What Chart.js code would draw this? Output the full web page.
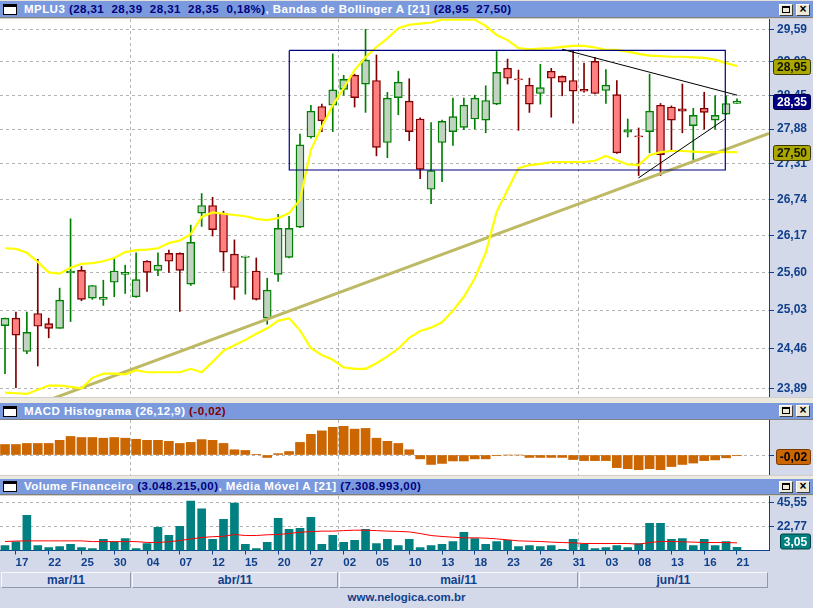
<!DOCTYPE html>
<html>
<head>
<meta charset="utf-8">
<title>MPLU3</title>
<script src="https://cdn.jsdelivr.net/npm/chart.js@4.4.1/dist/chart.umd.min.js"></script>
<style>
  body { margin:0; width:813px; height:608px; position:relative; overflow:hidden; background:#d4d9e9; font-family:"Liberation Sans", Arial, sans-serif; font-weight:bold; }
  .strip { position:absolute; left:0; width:813px; }
  .titlebar { position:absolute; left:0; width:813px; background:#7b9ade; color:#fff; font-size:11.5px; white-space:pre; }
  .titlebar .txt { position:absolute; left:24px; top:0; letter-spacing:0.45px; }
  .num { color:#000080; }
  .neg { color:#800000; }
  .icon { position:absolute; left:3px; width:14px; height:11px; box-sizing:border-box; background:#fff; border:1px solid #000; border-top-width:3px; }
  .btn { position:absolute; width:14px; height:12px; box-sizing:border-box; background:#ece9d8; border:1px solid; border-color:#fff #404040 #404040 #fff; color:#000; font-size:12px; line-height:9px; text-align:center; }
  .btn .win { position:absolute; left:2px; top:1px; width:8px; height:7px; box-sizing:border-box; border:1px solid #000; border-top-width:2px; }
  canvas { position:absolute; left:0; }
  .month { position:absolute; top:572px; height:16px; box-sizing:border-box; background:#d9ddec; border:1px solid; border-color:#f6f7fb #9298ac #9298ac #f6f7fb; color:#10408c; font-size:12px; line-height:14px; text-align:center; }
  .footer { position:absolute; left:0; width:813px; top:591px; text-align:center; color:#10408c; font-size:11.5px; }
</style>
</head>
<body>

<div class="strip" style="top:0;height:1px;background:#e4e2da"></div>
<div class="titlebar" style="top:1px;height:16px;line-height:16px">
  <div class="icon" style="top:3px"></div>
  <span class="txt">MPLU3 <span class="num">(28,31  28,39  28,31  28,35  0,18%)</span>, Bandas de Bollinger A [21] <span class="num">(28,95  27,50)</span></span>
  <div class="btn" style="left:779px;top:3px"><div class="win"></div></div>
  <div class="btn" style="left:796px;top:3px">×</div>
</div>
<div class="strip" style="top:17px;height:1px;background:#808080"></div>
<div class="strip" style="top:18px;height:1px;background:#d4d0c8"></div>

<canvas id="price" width="813" height="378" style="top:19px"></canvas>

<div class="strip" style="top:397px;height:1px;background:#cfcfcf"></div>
<div class="strip" style="top:398px;height:5px;background:#eceadf"></div>
<div class="titlebar" style="top:403px;height:16px;line-height:16px">
  <div class="icon" style="top:3px"></div>
  <span class="txt">MACD Histograma (26,12,9) <span class="neg">(-0,02)</span></span>
  <div class="btn" style="left:779px;top:2px"><div class="win"></div></div>
  <div class="btn" style="left:796px;top:2px">×</div>
</div>
<div class="strip" style="top:419px;height:1px;background:#808080"></div>

<canvas id="macd" width="813" height="55" style="top:420px"></canvas>

<div class="strip" style="top:475px;height:1px;background:#cfcfcf"></div>
<div class="strip" style="top:476px;height:3px;background:#eceadf"></div>
<div class="titlebar" style="top:479px;height:15px;line-height:15px">
  <div class="icon" style="top:2px"></div>
  <span class="txt">Volume Financeiro <span class="num">(3.048.215,00)</span>, Média Móvel A [21] <span class="num">(7.308.993,00)</span></span>
  <div class="btn" style="left:779px;top:2px"><div class="win"></div></div>
  <div class="btn" style="left:796px;top:2px">×</div>
</div>
<div class="strip" style="top:494px;height:1px;background:#808080"></div>
<div class="strip" style="top:495px;height:1px;background:#d4d0c8"></div>

<canvas id="volume" width="813" height="76" style="top:496px"></canvas>

<div class="month" style="left:1px;width:130px">mar/11</div>
<div class="month" style="left:132px;width:206px">abr/11</div>
<div class="month" style="left:339px;width:239px">mai/11</div>
<div class="month" style="left:579px;width:189px">jun/11</div>
<div class="footer">www.nelogica.com.br</div>

<script>
// Dados (pregões de 16/mar a 21/jun/2011)
const days = ['16','17','18','21','22','23','24','25','28','29','30','31',
  '01','04','05','06','07','08','11','12','13','14','15','18','19','20','25','26','27','28','29',
  '02','03','04','05','06','09','10','11','12','13','16','17','18','19','20','23','24','25','26','27','30','31',
  '01','02','03','06','07','08','09','10','13','14','15','16','17','20','21'];

const opens = [24.80,24.91,24.42,24.98,24.83,24.76,25.59,25.63,25.21,25.19,
  25.45,25.57,25.23,25.77,25.63,25.89,25.89,25.42,26.52,26.64,
  26.52,25.88,25.83,25.62,24.91,25.57,25.83,26.30,27.75,28.26,
  28.28,28.55,28.79,28.64,28.70,27.66,28.41,28.35,28.05,26.90,
  27.66,27.84,27.91,28.05,28.03,28.30,28.91,28.73,28.62,28.48,
  28.86,28.77,28.70,28.55,29.03,28.53,28.46,27.83,27.77,27.84,
  28.28,28.25,28.22,27.94,28.23,28.03,28.13,28.31];
const highs = [24.91,25.00,25.00,25.80,24.91,25.36,26.43,25.69,25.40,25.48,
  25.82,25.71,25.90,25.78,25.90,25.94,25.90,26.33,26.83,26.77,
  26.55,26.10,25.85,25.82,25.51,26.50,26.47,27.80,28.28,28.30,
  29.16,28.79,28.81,29.59,29.14,28.50,28.86,28.73,28.07,27.99,
  28.03,28.40,28.40,28.45,28.61,29.20,29.07,28.88,28.74,28.98,
  28.91,28.78,29.21,29.00,29.10,28.89,28.70,28.05,27.90,28.81,
  28.31,28.27,28.64,28.23,28.50,28.44,28.44,28.39];
const lows = [24.10,23.90,24.39,24.21,24.62,24.76,24.86,25.17,25.19,25.10,
  25.23,25.28,25.22,25.31,25.55,25.60,25.01,25.40,26.31,26.16,
  25.62,25.19,25.27,25.18,24.82,25.46,25.82,26.29,27.73,27.84,
  27.84,28.45,28.25,28.16,27.44,27.41,28.12,27.69,27.07,26.67,
  27.02,27.61,27.87,27.88,27.82,28.29,28.64,27.86,28.16,28.30,
  28.08,28.44,27.98,28.50,28.47,28.31,27.48,27.75,27.12,27.49,
  27.12,27.53,27.82,27.36,27.88,27.88,28.12,28.31];
const closes = [24.91,24.66,24.70,24.79,24.76,25.18,25.62,25.19,25.40,25.22,
  25.62,25.60,25.49,25.60,25.71,25.77,25.63,26.06,26.64,26.26,
  25.91,25.37,25.85,25.19,25.33,26.28,26.28,27.62,28.18,28.02,
  28.54,28.72,28.41,29.05,27.58,28.40,28.67,27.84,27.22,27.20,
  28.01,28.09,28.28,28.40,28.36,28.84,28.74,28.71,28.30,28.58,
  28.74,28.67,28.52,28.52,28.48,28.62,27.49,27.87,27.75,28.18,
  27.46,28.03,28.18,28.11,28.16,28.11,28.31,28.35];

// Bandas de Bollinger [21]
const bandUpper = [25.97,25.96,25.90,25.76,25.60,25.58,25.67,25.73,25.74,25.77,
  25.82,25.91,25.94,25.95,25.97,26.05,26.09,26.19,26.46,26.53,
  26.51,26.49,26.47,26.43,26.41,26.44,26.52,26.73,27.54,27.92,
  28.28,28.57,28.88,29.10,29.28,29.43,29.61,29.67,29.69,29.71,
  29.76,29.76,29.76,29.76,29.65,29.49,29.40,29.26,29.24,29.25,
  29.26,29.28,29.30,29.30,29.27,29.23,29.23,29.20,29.16,29.13,
  29.12,29.11,29.11,29.10,29.09,29.06,29.00,28.95];
const bandLower = [23.83,23.82,23.81,23.87,23.93,23.93,23.91,23.89,24.04,24.10,
  24.10,24.09,24.15,24.12,24.12,24.12,24.12,24.17,24.12,24.27,
  24.43,24.51,24.59,24.68,24.76,24.87,24.91,24.73,24.47,24.37,
  24.30,24.19,24.17,24.17,24.25,24.35,24.46,24.62,24.72,24.77,
  24.85,25.02,25.23,25.51,25.90,26.54,26.89,27.24,27.29,27.31,
  27.34,27.34,27.34,27.34,27.36,27.44,27.37,27.30,27.29,27.45,
  27.50,27.52,27.52,27.51,27.50,27.50,27.50,27.50];

// MACD Histograma (26,12,9)
const macdHist = [0.30,0.30,0.33,0.33,0.33,0.42,0.53,0.50,0.50,0.48,
  0.50,0.48,0.45,0.42,0.42,0.39,0.33,0.36,0.44,0.42,
  0.33,0.15,0.13,0.02,-0.07,0.04,0.10,0.36,0.59,0.69,
  0.79,0.82,0.74,0.76,0.48,0.39,0.33,0.15,-0.11,-0.27,
  -0.24,-0.17,-0.17,-0.11,-0.11,-0.02,0,0,-0.07,-0.07,
  -0.07,-0.07,-0.13,-0.16,-0.16,-0.16,-0.36,-0.39,-0.42,-0.39,
  -0.42,-0.33,-0.27,-0.23,-0.16,-0.14,-0.08,-0.02];

// Volume financeiro (milhões) e média móvel [21]
const volume = [4.8,8.3,33.6,4.8,2.9,3.8,5.8,2.9,1.9,10.6,
  8.3,11.5,1.9,6.7,22.1,14.4,23.1,47.1,39.7,10.6,
  29.8,45.2,5.8,1.9,7.7,30.8,20.2,21.1,31.7,5.8,
  14.4,7.7,9.6,20.2,6.7,10.6,4.8,10.6,2.9,4.8,
  5.8,8.6,17.3,11.5,5.8,8.6,9.6,3.8,4.8,3.8,
  4.8,1.0,10.6,5.8,1.9,2.9,4.8,2.9,6.7,25.9,
  25.9,10.6,11.5,4.8,10.6,4.8,8.6,3.05];
const volumeMA = [8.6,9.0,9.2,9.2,9.2,9.2,9.2,9.2,8.5,8.5,
  8.5,8.5,8.5,7.7,7.7,8.3,9.5,11.0,12.4,13.2,
  13.6,15.3,14.3,14.3,15.0,15.3,16.2,17.5,18.0,18.5,
  18.5,19.0,19.4,19.4,19.0,18.5,18.2,17.8,16.2,14.3,
  13.4,12.7,12.1,12.1,11.8,11.1,10.2,9.2,8.9,8.6,
  8.0,7.6,7.3,6.7,6.7,6.7,6.7,6.7,6.0,7.6,
  8.6,8.6,8.3,8.0,7.6,7.6,7.6,7.31];

// Escalas
const priceTicks = [23.89,24.46,25.03,25.60,26.17,26.74,27.31,27.88,28.45,29.02,29.59];
const volumeTicks = [22.77,45.55];
const macdTicks = [0];
const monthBounds = [11.5,30.5,52.5];

// Desenhos (índice do pregão, preço)
const boxIdx = [26.02,65.93];
const boxPrice = [27.21,29.22];
const ltbLine = [{x:51.0,y:29.24},{x:67.03,y:28.45}];
const ltaShort = [{x:57.97,y:27.08},{x:65.93,y:28.05}];
const ltaLong = [{x:-0.458,y:23.47},{x:69.93,y:27.81}];

const X_MIN = -0.458, X_MAX = 69.93;
const GRID = '#b4b4b4';
const AXIS_TXT = '#10408c';
const AXIS_FONT = {family:'Liberation Sans', weight:'bold', size:12};
const fmt = v => Number(v).toFixed(2).replace('.', ',');
const idx = days.map((d, i) => i);

Chart.defaults.animation = false;
Chart.defaults.devicePixelRatio = 1;

const plotBg = {
  id: 'plotBg',
  beforeDraw(chart) {
    const a = chart.chartArea, ctx = chart.ctx;
    ctx.save();
    ctx.fillStyle = '#ffffff';
    ctx.fillRect(a.left, a.top, a.right - a.left, a.bottom - a.top);
    ctx.restore();
  }
};

function tagPlugin(tags) {
  return {
    id: 'tags',
    afterDraw(chart) {
      const ctx = chart.ctx, ys = chart.scales.y, a = chart.chartArea;
      ctx.save();
      ctx.font = 'bold 12px "Liberation Sans"';
      ctx.textBaseline = 'middle';
      ctx.textAlign = 'center';
      tags.forEach(t => {
        const h = 16;
        let py = Math.round(ys.getPixelForValue(t.value)) + 1;
        py = Math.min(py, a.bottom - h / 2 - 1);
        const w = Math.ceil(ctx.measureText(t.text).width) + 6;
        const x = 810 - w;
        ctx.fillStyle = t.bg;
        ctx.strokeStyle = t.edge;
        ctx.lineWidth = 1;
        ctx.beginPath();
        ctx.roundRect(x + 0.5, py - h / 2 + 0.5, w, h - 1, 2);
        ctx.fill();
        ctx.stroke();
        ctx.fillStyle = t.fg;
        ctx.fillText(t.text, x + w / 2 + 0.5, py + 1);
      });
      ctx.restore();
    }
  };
}

function indexAxis(show) {
  const ax = {
    type: 'linear', min: X_MIN, max: X_MAX, position: 'bottom', offset: false, display: show,
    afterFit: s => { s.paddingLeft = 0; s.paddingRight = 0; if (show) s.height = 21.5; }
  };
  if (show) {
    ax.afterBuildTicks = s => { s.ticks = idx.filter(i => i % 3 === 1).map(i => ({value: i})); };
    ax.ticks = {autoSkip: false, maxRotation: 0, minRotation: 0, labelOffset: 6, padding: 1,
      color: AXIS_TXT, font: {family:'Liberation Sans', weight:'bold', size:11.5},
      callback: v => days[v]};
    ax.grid = {drawOnChartArea: false, drawTicks: true, tickLength: 4, color: AXIS_TXT, offset: false};
    ax.border = {display: true, color: AXIS_TXT, width: 1};
  }
  return ax;
}

function monthAxis() {
  return {
    type: 'linear', min: X_MIN, max: X_MAX, position: 'bottom', offset: false,
    afterBuildTicks: s => { s.ticks = monthBounds.map(v => ({value: v})); },
    afterFit: s => { s.height = 0; s.paddingLeft = 0; s.paddingRight = 0; },
    ticks: {display: false},
    grid: {color: GRID, drawTicks: false, offset: false},
    border: {display: false, dash: [3, 3]}
  };
}

function valueAxis(type, min, max, ticks) {
  return {
    type: type, position: 'right', min: min, max: max, bounds: 'data',
    afterBuildTicks: s => { s.ticks = ticks.map(v => ({value: v})); },
    afterFit: s => { s.width = 44; s.paddingTop = 0; s.paddingBottom = 0; },
    ticks: {autoSkip: false, padding: 3, color: AXIS_TXT, font: AXIS_FONT, callback: v => fmt(v)},
    grid: {color: GRID, tickColor: AXIS_TXT, tickLength: 5, tickBorderDash: []},
    border: {display: true, color: AXIS_TXT, width: 1, dash: [3, 3]}
  };
}

const baseOptions = {
  responsive: false,
  animation: false,
  events: [],
  layout: {padding: 0, autoPadding: false},
  plugins: {legend: {display: false}, tooltip: {enabled: false}}
};

// Preço: candles + Bollinger + desenhos
const up = idx.map(i => closes[i] >= opens[i]);
const lineDs = (data, color, width, order) => ({
  type: 'line', data: data, borderColor: color, borderWidth: width,
  pointRadius: 0, tension: 0, fill: false, order: order
});
const boxPath = [
  {x: boxIdx[0], y: boxPrice[1]}, {x: boxIdx[1], y: boxPrice[1]},
  {x: boxIdx[1], y: boxPrice[0]}, {x: boxIdx[0], y: boxPrice[0]},
  {x: boxIdx[0], y: boxPrice[1]}
];

new Chart(document.getElementById('price'), {
  type: 'bar',
  data: {
    datasets: [
      lineDs(ltbLine, '#000000', 1, 0),
      lineDs(ltaShort, '#000000', 1, 0),
      lineDs(boxPath, '#000080', 1.2, 1),
      lineDs(idx.map(i => ({x: i, y: bandUpper[i]})), '#ffff00', 2.2, 2),
      lineDs(idx.map(i => ({x: i, y: bandLower[i]})), '#ffff00', 2.2, 2),
      lineDs(ltaLong, '#bdb964', 3, 3),
      {
        type: 'bar', order: 4, grouped: false, barThickness: 8, borderWidth: 1.4, borderSkipped: false,
        data: idx.map(i => ({x: i, y: [opens[i], closes[i]]})),
        backgroundColor: up.map(u => u ? '#c2d3c2' : '#ff8080'),
        borderColor: up.map(u => u ? '#008000' : '#800000')
      },
      {
        type: 'bar', order: 5, grouped: false, barThickness: 1, borderWidth: 0,
        data: idx.map(i => ({x: i, y: [lows[i], highs[i]]})),
        backgroundColor: up.map(u => u ? '#008000' : '#800000')
      }
    ]
  },
  options: Object.assign({}, baseOptions, {
    scales: {
      x: indexAxis(false),
      xm: monthAxis(),
      y: valueAxis('logarithmic', 23.767, 29.772, priceTicks)
    }
  }),
  plugins: [plotBg, tagPlugin([
    {value: bandUpper[bandUpper.length - 1], text: fmt(bandUpper[bandUpper.length - 1]), bg: '#aaa800', fg: '#141400', edge: '#3a3a00'},
    {value: bandLower[bandLower.length - 1], text: fmt(bandLower[bandLower.length - 1]), bg: '#aaa800', fg: '#141400', edge: '#3a3a00'},
    {value: closes[closes.length - 1], text: fmt(closes[closes.length - 1]), bg: '#000080', fg: '#ffffff', edge: '#000040'}
  ])]
});

// MACD
new Chart(document.getElementById('macd'), {
  type: 'bar',
  data: {
    datasets: [{
      type: 'bar', grouped: false, barThickness: 9, borderWidth: 0,
      data: idx.map(i => ({x: i, y: macdHist[i]})),
      backgroundColor: '#cc6600'
    }]
  },
  options: Object.assign({}, baseOptions, {
    scales: {
      x: indexAxis(false),
      xm: monthAxis(),
      y: valueAxis('linear', -0.571, 1.0, macdTicks)
    }
  }),
  plugins: [plotBg, tagPlugin([
    {value: macdHist[macdHist.length - 1], text: fmt(macdHist[macdHist.length - 1]), bg: '#cc6600', fg: '#000000', edge: '#7a3a00'}
  ])]
});

// Volume
new Chart(document.getElementById('volume'), {
  type: 'bar',
  data: {
    datasets: [
      lineDs(idx.map(i => ({x: i, y: volumeMA[i]})), '#ff0000', 1, 0),
      {
        type: 'bar', order: 1, grouped: false, barThickness: 8, borderWidth: 0,
        data: idx.map(i => ({x: i, y: volume[i]})),
        backgroundColor: '#008080'
      }
    ]
  },
  options: Object.assign({}, baseOptions, {
    scales: {
      x: indexAxis(true),
      xm: monthAxis(),
      y: valueAxis('linear', 0, 52.05, volumeTicks)
    }
  }),
  plugins: [plotBg, tagPlugin([
    {value: volume[volume.length - 1], text: fmt(volume[volume.length - 1]), bg: '#008080', fg: '#ffffff', edge: '#004040'}
  ])]
});
</script>
</body>
</html>
